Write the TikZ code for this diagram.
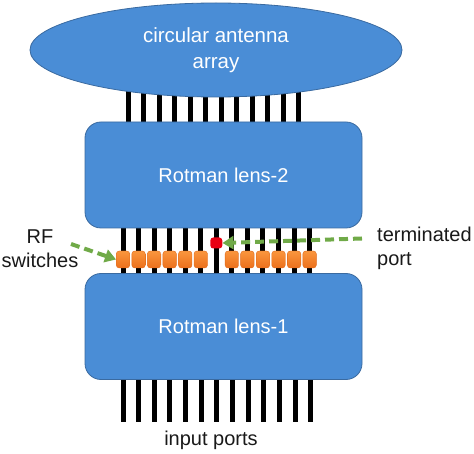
\documentclass[tikz,border=0pt]{standalone}
\usepackage{fontspec}
\setmainfont{Liberation Sans}
\usetikzlibrary{shapes.geometric,arrows.meta}
\definecolor{lensblue}{RGB}{74,141,214}
\definecolor{lensedge}{RGB}{58,106,160}
\definecolor{swtop}{RGB}{250,150,62}
\definecolor{swbot}{RGB}{236,112,28}
\definecolor{swedge}{RGB}{225,105,25}
\definecolor{termred}{RGB}{232,0,18}
\definecolor{arrgreen}{RGB}{112,170,72}
\pgfdeclarelayer{background}
\pgfsetlayers{background,main}
\begin{document}
\begin{tikzpicture}[x=1pt,y=-1pt,
  lens/.style={draw=lensedge, line width=0.8pt, fill=lensblue, rounded corners=16pt,
    minimum width=277pt, minimum height=106pt, inner sep=0pt, text=white,
    font=\fontsize{20}{24}\selectfont},
  antenna/.style={ellipse, draw=lensedge, line width=0.8pt, fill=lensblue,
    minimum width=372pt, minimum height=94pt, inner sep=0pt, text=white, align=center,
    font=\fontsize{20.5}{26}\selectfont},
  port/.style={line width=5pt, black},
  switchbox/.style={rectangle, rounded corners=3pt, top color=swtop, bottom color=swbot,
    draw=swedge, line width=0.4pt, minimum width=13.5pt, minimum height=17pt, inner sep=0pt},
  termbox/.style={rectangle, rounded corners=3pt, fill=termred, minimum width=12pt,
    minimum height=11pt, inner sep=0pt},
  label/.style={text=black!90, font=\fontsize{20}{24}\selectfont},
  garrow/.style={arrgreen, line width=4pt, dash pattern=on 9pt off 5pt,
    -{Triangle[length=11pt,width=13pt]}}
]
\useasboundingbox (0,0) rectangle (474,454);

\node[antenna] (ant) at (216,50) {circular antenna\\array};
\node[lens] (lens2) at (223.5,175) {Rotman lens-2};
\node[lens] (lens1) at (223.5,326.5) {Rotman lens-1};

\begin{pgfonlayer}{background}
  \foreach \i in {0,...,11}
    \draw[port] (128+15.5*\i,85) -- (128+15.5*\i,127);
  \foreach \i in {0,...,12}
    \draw[port] (123+15.55*\i,224) -- (123+15.55*\i,277);
  \foreach \i in {0,...,12}
    \draw[port] (123+15.65*\i,376) -- (123+15.65*\i,422);
\end{pgfonlayer}

\foreach \i in {0,...,5}
  \node[switchbox] (sw\i) at (123+15.55*\i,259.5) {};
\foreach \i in {7,...,12}
  \node[switchbox] (sw\i) at (123+15.55*\i,259.5) {};
\node[termbox] (term) at (216.3,243) {};

\node[label, align=center] (rf) at (40,249) {RF\\switches};
\node[label, align=left, anchor=west, inner sep=0pt] (tp) at (377,248) {terminated\\port};
\node[label] (inp) at (211,440) {input ports};

\coordinate (rfstart) at (71,244);
\coordinate (tpstart) at (362,238.5);
\draw[garrow] (rfstart) -- (sw0.west);
\draw[garrow] (tpstart) -- (term.east);
\end{tikzpicture}
\end{document}
